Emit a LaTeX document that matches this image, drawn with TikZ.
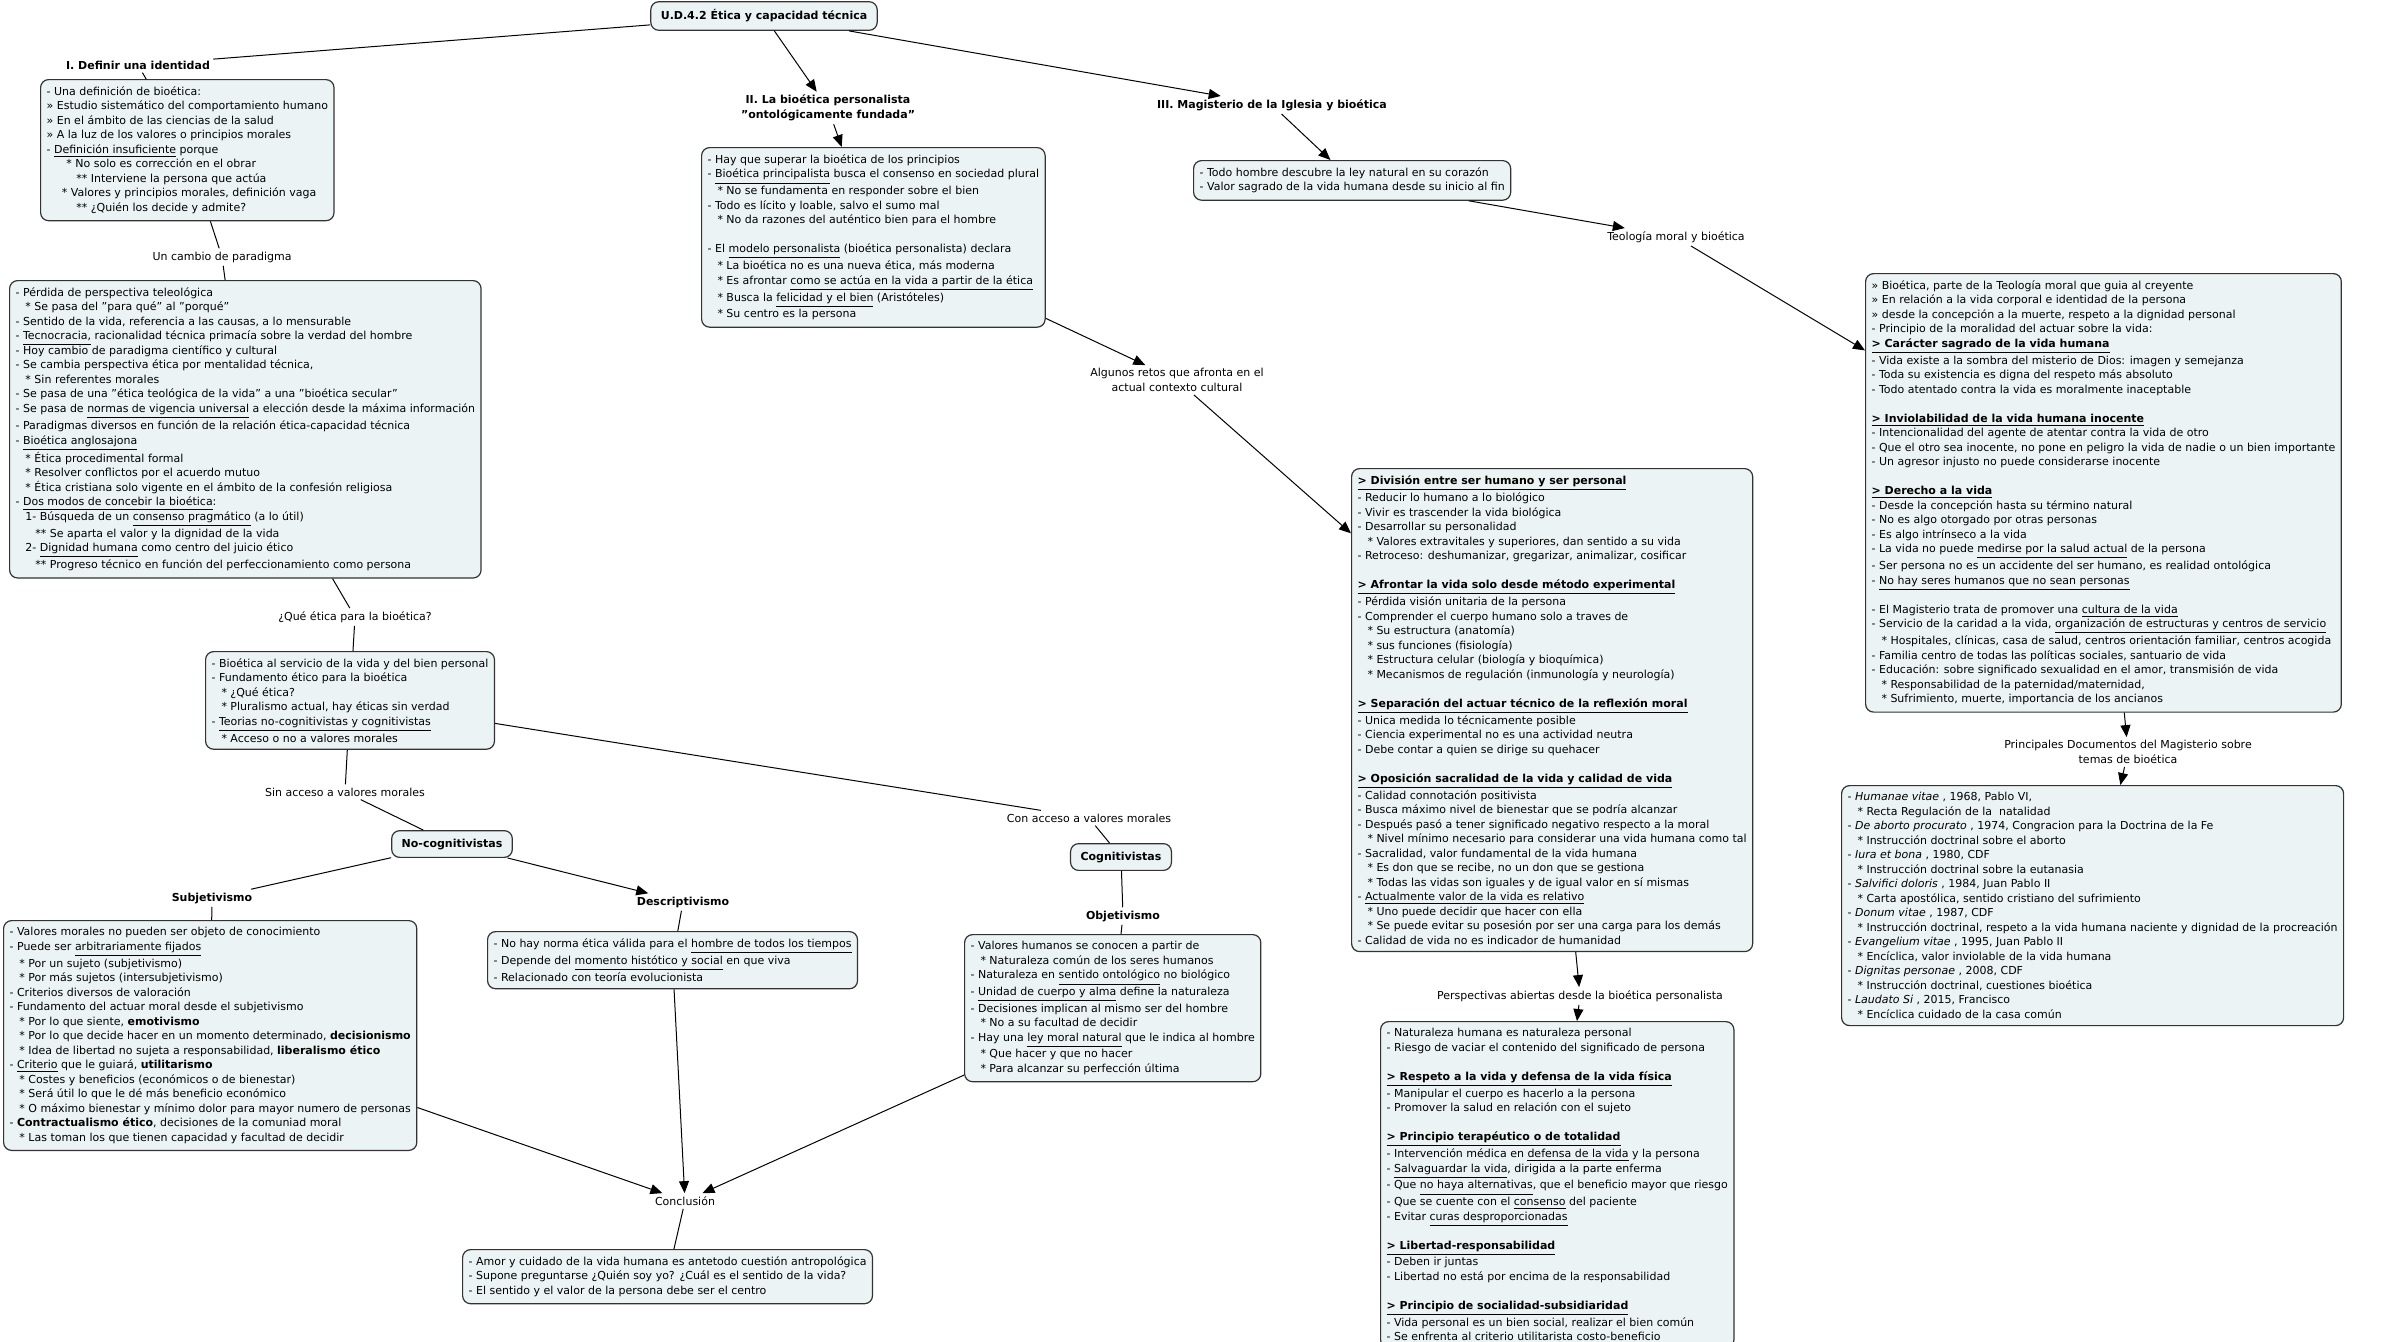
\documentclass[tikz,border=0pt]{standalone}
\usepackage{fontspec}
\setmainfont{DejaVu Sans}
\usetikzlibrary{arrows.meta}
\newcommand{\uline}[1]{\underline{#1}}
\newcommand{\ind}{\hspace*{0.9em}}
\newcommand{\indd}{\hspace*{1.8em}}
\newcommand{\bl}{\mbox{}}
\definecolor{boxfill}{HTML}{ECF3F5}
\definecolor{edge}{HTML}{333333}
\begin{document}
\begin{tikzpicture}[x=0.5pt,y=-0.5pt,
  every node/.style={font=\fontsize{5.5}{7.25}\selectfont},
  box/.style={draw=edge,line width=0.6pt,fill=boxfill,rounded corners=4pt,align=left,anchor=north west,inner xsep=3pt,inner ysep=3.5pt},
  lab/.style={align=center,inner sep=1.5pt},
  blab/.style={lab,font=\fontsize{5.5}{7.25}\selectfont\bfseries},
  ln/.style={draw=black,line width=0.5pt},
  ar/.style={ln,-{Triangle[length=6pt,width=5pt]}}]
\useasboundingbox (0,0) rectangle (2403,1341);
\fill[white] (0,0) rectangle (2403,1341);

\node[box,anchor=center,font=\fontsize{5.5}{7.25}\selectfont\bfseries,inner ysep=4pt,inner xsep=5pt] (root) at (764,16) {U.D.4.2 Ética y capacidad técnica};

\node[blab] (l1) at (138,65) {I. Definir una identidad};
\node[box] (b1) at (40,79) {- Una definición de bioética:\\
>> Estudio sistemático del comportamiento humano\\
>> En el ámbito de las ciencias de la salud\\
>> A la luz de los valores o principios morales\\
- \uline{Definición insuficiente} porque\\
\ind\ind * No solo es corrección en el obrar\\
\indd\ind ** Interviene la persona que actúa\\
\ind\hspace*{0.5em}* Valores y principios morales, definición vaga\\
\indd\ind ** ¿Quién los decide y admite?};

\node[lab] (lcp) at (222,257) {Un cambio de paradigma};
\node[box] (b2) at (9,280) {- Pérdida de perspectiva teleológica\\
\ind * Se pasa del "para qué" al "porqué"\\
- Sentido de la vida, referencia a las causas, a lo mensurable\\
- \uline{Tecnocracia,} racionalidad técnica primacía sobre la verdad del hombre\\
- Hoy cambio de paradigma científico y cultural\\
- Se cambia perspectiva ética por mentalidad técnica,\\
\ind * Sin referentes morales\\
- Se pasa de una "ética teológica de la vida" a una "bioética secular"\\
- Se pasa de \uline{normas de vigencia universal} a elección desde la máxima información\\
- Paradigmas diversos en función de la relación ética-capacidad técnica\\
- \uline{Bioética anglosajona}\\
\ind * Ética procedimental formal\\
\ind * Resolver conflictos por el acuerdo mutuo\\
\ind * Ética cristiana solo vigente en el ámbito de la confesión religiosa\\
- \uline{Dos modos de concebir la bioética}:\\
\ind 1- Búsqueda de un \uline{consenso pragmático} (a lo útil)\\
\indd ** Se aparta el valor y la dignidad de la vida\\
\ind 2- \uline{Dignidad humana} como centro del juicio ético\\
\indd ** Progreso técnico en función del perfeccionamiento como persona};

\node[lab] (lqe) at (355,617) {¿Qué ética para la bioética?};
\node[box] (b3) at (205,651) {- Bioética al servicio de la vida y del bien personal\\
- Fundamento ético para la bioética\\
\ind * ¿Qué ética?\\
\ind * Pluralismo actual, hay éticas sin verdad\\
- \uline{Teorias no-cognitivistas y cognitivistas}\\
\ind * Acceso o no a valores morales};

\node[lab] (lsa) at (345,792) {Sin acceso a valores morales};
\node[box,anchor=center,font=\fontsize{5.5}{7.25}\selectfont\bfseries,inner ysep=4pt,inner xsep=5pt] (nc) at (452,844) {No-cognitivistas};
\node[lab] (lca) at (1089,818) {Con acceso a valores morales};
\node[box,anchor=center,font=\fontsize{5.5}{7.25}\selectfont\bfseries,inner ysep=4pt,inner xsep=5pt] (cg) at (1121,857) {Cognitivistas};

\node[blab] (lsub) at (212,898) {Subjetivismo};
\node[box] (bsub) at (3,920) {- Valores morales no pueden ser objeto de conocimiento\\
- Puede ser \uline{arbitrariamente fijados}\\
\ind * Por un sujeto (subjetivismo)\\
\ind * Por más sujetos (intersubjetivismo)\\
- Criterios diversos de valoración\\
- Fundamento del actuar moral desde el subjetivismo\\
\ind * Por lo que siente, \textbf{emotivismo}\\
\ind * Por lo que decide hacer en un momento determinado, \textbf{decisionismo}\\
\ind * Idea de libertad no sujeta a responsabilidad, \textbf{liberalismo ético}\\
- \uline{Criterio} que le guiará, \textbf{utilitarismo}\\
\ind * Costes y beneficios (económicos o de bienestar)\\
\ind * Será útil lo que le dé más beneficio económico\\
\ind * O máximo bienestar y mínimo dolor para mayor numero de personas\\
- \textbf{Contractualismo ético}, decisiones de la comuniad moral\\
\ind * Las toman los que tienen capacidad y facultad de decidir};

\node[blab] (ldes) at (683,902) {Descriptivismo};
\node[box] (bdes) at (487,931) {- No hay norma ética válida para el \uline{hombre de todos los tiempos}\\
- Depende del \uline{momento histótico y social} en que viva\\
- Relacionado con teoría evolucionista};

\node[blab] (lobj) at (1123,916) {Objetivismo};
\node[box] (bobj) at (964,934) {- Valores humanos se conocen a partir de\\
\ind * Naturaleza común de los seres humanos\\
- Naturaleza en \uline{sentido ontológico} no biológico\\
- \uline{Unidad de cuerpo y alma} define la naturaleza\\
- Decisiones implican al mismo ser del hombre\\
\ind * No a su facultad de decidir\\
- Hay una \uline{ley moral natural} que le indica al hombre\\
\ind * Que hacer y que no hacer\\
\ind * Para alcanzar su perfección última};

\node[lab] (lcon) at (685,1201) {Conclusión};
\node[box] (bcon) at (462,1249) {- Amor y cuidado de la vida humana es antetodo cuestión antropológica\\
- Supone preguntarse ¿Quién soy yo? ¿Cuál es el sentido de la vida?\\
- El sentido y el valor de la persona debe ser el centro};

\node[blab] (l2) at (828,108) {II. La bioética personalista\\"ontológicamente fundada"};
\node[box] (b2p) at (701,147) {- Hay que superar la bioética de los principios\\
- \uline{Bioética principalista} busca el consenso en sociedad plural\\
\ind * No se fundamenta en responder sobre el bien\\
- Todo es lícito y loable, salvo el sumo mal\\
\ind * No da razones del auténtico bien para el hombre\\
\bl\\
- El \uline{modelo personalista} (bioética personalista) declara\\
\ind * La bioética no es una nueva ética, más moderna\\
\ind * Es afrontar \uline{como se actúa en la vida a partir de la ética}\\
\ind * Busca la \uline{felicidad y el bien} (Aristóteles)\\
\ind * Su centro es la persona};

\node[lab] (lret) at (1177,380) {Algunos retos que afronta en el\\actual contexto cultural};
\node[box] (bret) at (1351,468) {\textbf{\uline{> División entre ser humano y ser personal}}\\
- Reducir lo humano a lo biológico\\
- Vivir es trascender la vida biológica\\
- Desarrollar su personalidad\\
\ind * Valores extravitales y superiores, dan sentido a su vida\\
- Retroceso: deshumanizar, gregarizar, animalizar, cosificar\\
\bl\\
\textbf{\uline{> Afrontar la vida solo desde método experimental}}\\
- Pérdida visión unitaria de la persona\\
- Comprender el cuerpo humano solo a traves de\\
\ind * Su estructura (anatomía)\\
\ind * sus funciones (fisiología)\\
\ind * Estructura celular (biología y bioquímica)\\
\ind * Mecanismos de regulación (inmunología y neurología)\\
\bl\\
\textbf{\uline{> Separación del actuar técnico de la reflexión moral}}\\
- Unica medida lo técnicamente posible\\
- Ciencia experimental no es una actividad neutra\\
- Debe contar a quien se dirige su quehacer\\
\bl\\
\textbf{\uline{> Oposición sacralidad de la vida y calidad de vida}}\\
- Calidad connotación positivista\\
- Busca máximo nivel de bienestar que se podría alcanzar\\
- Después pasó a tener significado negativo respecto a la moral\\
\ind * Nivel mínimo necesario para considerar una vida humana como tal\\
- Sacralidad, valor fundamental de la vida humana\\
\ind * Es don que se recibe, no un don que se gestiona\\
\ind * Todas las vidas son iguales y de igual valor en sí mismas\\
- \uline{Actualmente valor de la vida es relativo}\\
\ind * Uno puede decidir que hacer con ella\\
\ind * Se puede evitar su posesión por ser una carga para los demás\\
- Calidad de vida no es indicador de humanidad};

\node[lab] (lper) at (1580,996) {Perspectivas abiertas desde la bioética personalista};
\node[box] (bper) at (1380,1021) {- Naturaleza humana es naturaleza personal\\
- Riesgo de vaciar el contenido del significado de persona\\
\bl\\
\textbf{\uline{> Respeto a la vida y defensa de la vida física}}\\
- Manipular el cuerpo es hacerlo a la persona\\
- Promover la salud en relación con el sujeto\\
\bl\\
\textbf{\uline{> Principio terapéutico o de totalidad}}\\
- Intervención médica en \uline{defensa de la vida} y la persona\\
- \uline{Salvaguardar la vida}, dirigida a la parte enferma\\
- Que \uline{no haya alternativas}, que el beneficio mayor que riesgo\\
- Que se cuente con el \uline{consenso} del paciente\\
- Evitar \uline{curas desproporcionadas}\\
\bl\\
\textbf{\uline{> Libertad-responsabilidad}}\\
- Deben ir juntas\\
- Libertad no está por encima de la responsabilidad\\
\bl\\
\textbf{\uline{> Principio de socialidad-subsidiaridad}}\\
- Vida personal es un bien social, realizar el bien común\\
- Se enfrenta al criterio utilitarista costo-beneficio};

\node[blab] (l3) at (1272,105) {III. Magisterio de la Iglesia y bioética};
\node[box] (b3a) at (1193,160) {- Todo hombre descubre la ley natural en su corazón\\
- Valor sagrado de la vida humana desde su inicio al fin};

\node[lab] (lteo) at (1676,237) {Teología moral y bioética};
\node[box] (bteo) at (1865,273) {>> Bioética, parte de la Teología moral que guia al creyente\\
>> En relación a la vida corporal e identidad de la persona\\
>> desde la concepción a la muerte, respeto a la dignidad personal\\
- Principio de la moralidad del actuar sobre la vida:\\
\textbf{\uline{> Carácter sagrado de la vida humana}}\\
- Vida existe a la sombra del misterio de Dios: imagen y semejanza\\
- Toda su existencia es digna del respeto más absoluto\\
- Todo atentado contra la vida es moralmente inaceptable\\
\bl\\
\textbf{\uline{> Inviolabilidad de la vida humana inocente}}\\
- Intencionalidad del agente de atentar contra la vida de otro\\
- Que el otro sea inocente, no pone en peligro la vida de nadie o un bien importante\\
- Un agresor injusto no puede considerarse inocente\\
\bl\\
\textbf{\uline{> Derecho a la vida}}\\
- Desde la concepción hasta su término natural\\
- No es algo otorgado por otras personas\\
- Es algo intrínseco a la vida\\
- La vida no puede \uline{medirse por la salud actual} de la persona\\
- Ser persona no es un accidente del ser humano, es realidad ontológica\\
- \uline{No hay seres humanos que no sean personas}\\
\bl\\
- El Magisterio trata de promover una \uline{cultura de la vida}\\
- Servicio de la caridad a la vida, \uline{organización de estructuras y centros de servicio}\\
\ind * Hospitales, clínicas, casa de salud, centros orientación familiar, centros acogida\\
- Familia centro de todas las políticas sociales, santuario de vida\\
- Educación: sobre significado sexualidad en el amor, transmisión de vida\\
\ind * Responsabilidad de la paternidad/maternidad,\\
\ind * Sufrimiento, muerte, importancia de los ancianos};

\node[lab] (ldoc) at (2128,752) {Principales Documentos del Magisterio sobre\\temas de bioética};
\node[box] (bdoc) at (1841,785) {- \textit{Humanae vitae} , 1968, Pablo VI,\\
\ind * Recta Regulación de la\ \ natalidad\\
- \textit{De aborto procurato} , 1974, Congracion para la Doctrina de la Fe\\
\ind * Instrucción doctrinal sobre el aborto\\
- \textit{Iura et bona} , 1980, CDF\\
\ind * Instrucción doctrinal sobre la eutanasia\\
- \textit{Salvifici doloris} , 1984, Juan Pablo II\\
\ind * Carta apostólica, sentido cristiano del sufrimiento\\
- \textit{Donum vitae} , 1987, CDF\\
\ind * Instrucción doctrinal, respeto a la vida humana naciente y dignidad de la procreación\\
- \textit{Evangelium vitae} , 1995, Juan Pablo II\\
\ind * Encíclica, valor inviolable de la vida humana\\
- \textit{Dignitas personae} , 2008, CDF\\
\ind * Instrucción doctrinal, cuestiones bioética\\
- \textit{Laudato Si} , 2015, Francisco\\
\ind * Encíclica cuidado de la casa común};

% connectors
\draw[ln] (root) -- (l1);
\draw[ar] (root) -- (l2);
\draw[ar] (root) -- (l3);
\draw[ln] (l1) -- (b1);
\draw[ln] (b1) -- (lcp);
\draw[ln] (lcp) -- (b2);
\draw[ln] (b2) -- (lqe);
\draw[ln] (lqe) -- (b3);
\draw[ln] (b3) -- (lsa);
\draw[ln] (lsa) -- (nc);
\draw[ln] (b3) -- (lca);
\draw[ln] (lca) -- (cg);
\draw[ln] (nc) -- (lsub);
\draw[ar] (nc) -- (ldes);
\draw[ln] (lsub) -- (bsub);
\draw[ln] (ldes) -- (bdes);
\draw[ln] (cg) -- (lobj);
\draw[ln] (lobj) -- (bobj);
\draw[ar] (bsub) -- (lcon);
\draw[ar] (bdes) -- (lcon);
\draw[ar] (bobj) -- (lcon);
\draw[ln] (lcon) -- (bcon);
\draw[ar] (l2) -- (b2p);
\draw[ar] (b2p) -- (lret);
\draw[ar] (lret) -- (bret);
\draw[ar] (bret) -- (lper);
\draw[ar] (lper) -- (bper);
\draw[ar] (l3) -- (b3a);
\draw[ar] (b3a) -- (lteo);
\draw[ar] (lteo) -- (bteo);
\draw[ar] (bteo) -- (ldoc);
\draw[ar] (ldoc) -- (bdoc);
\end{tikzpicture}
\end{document}
